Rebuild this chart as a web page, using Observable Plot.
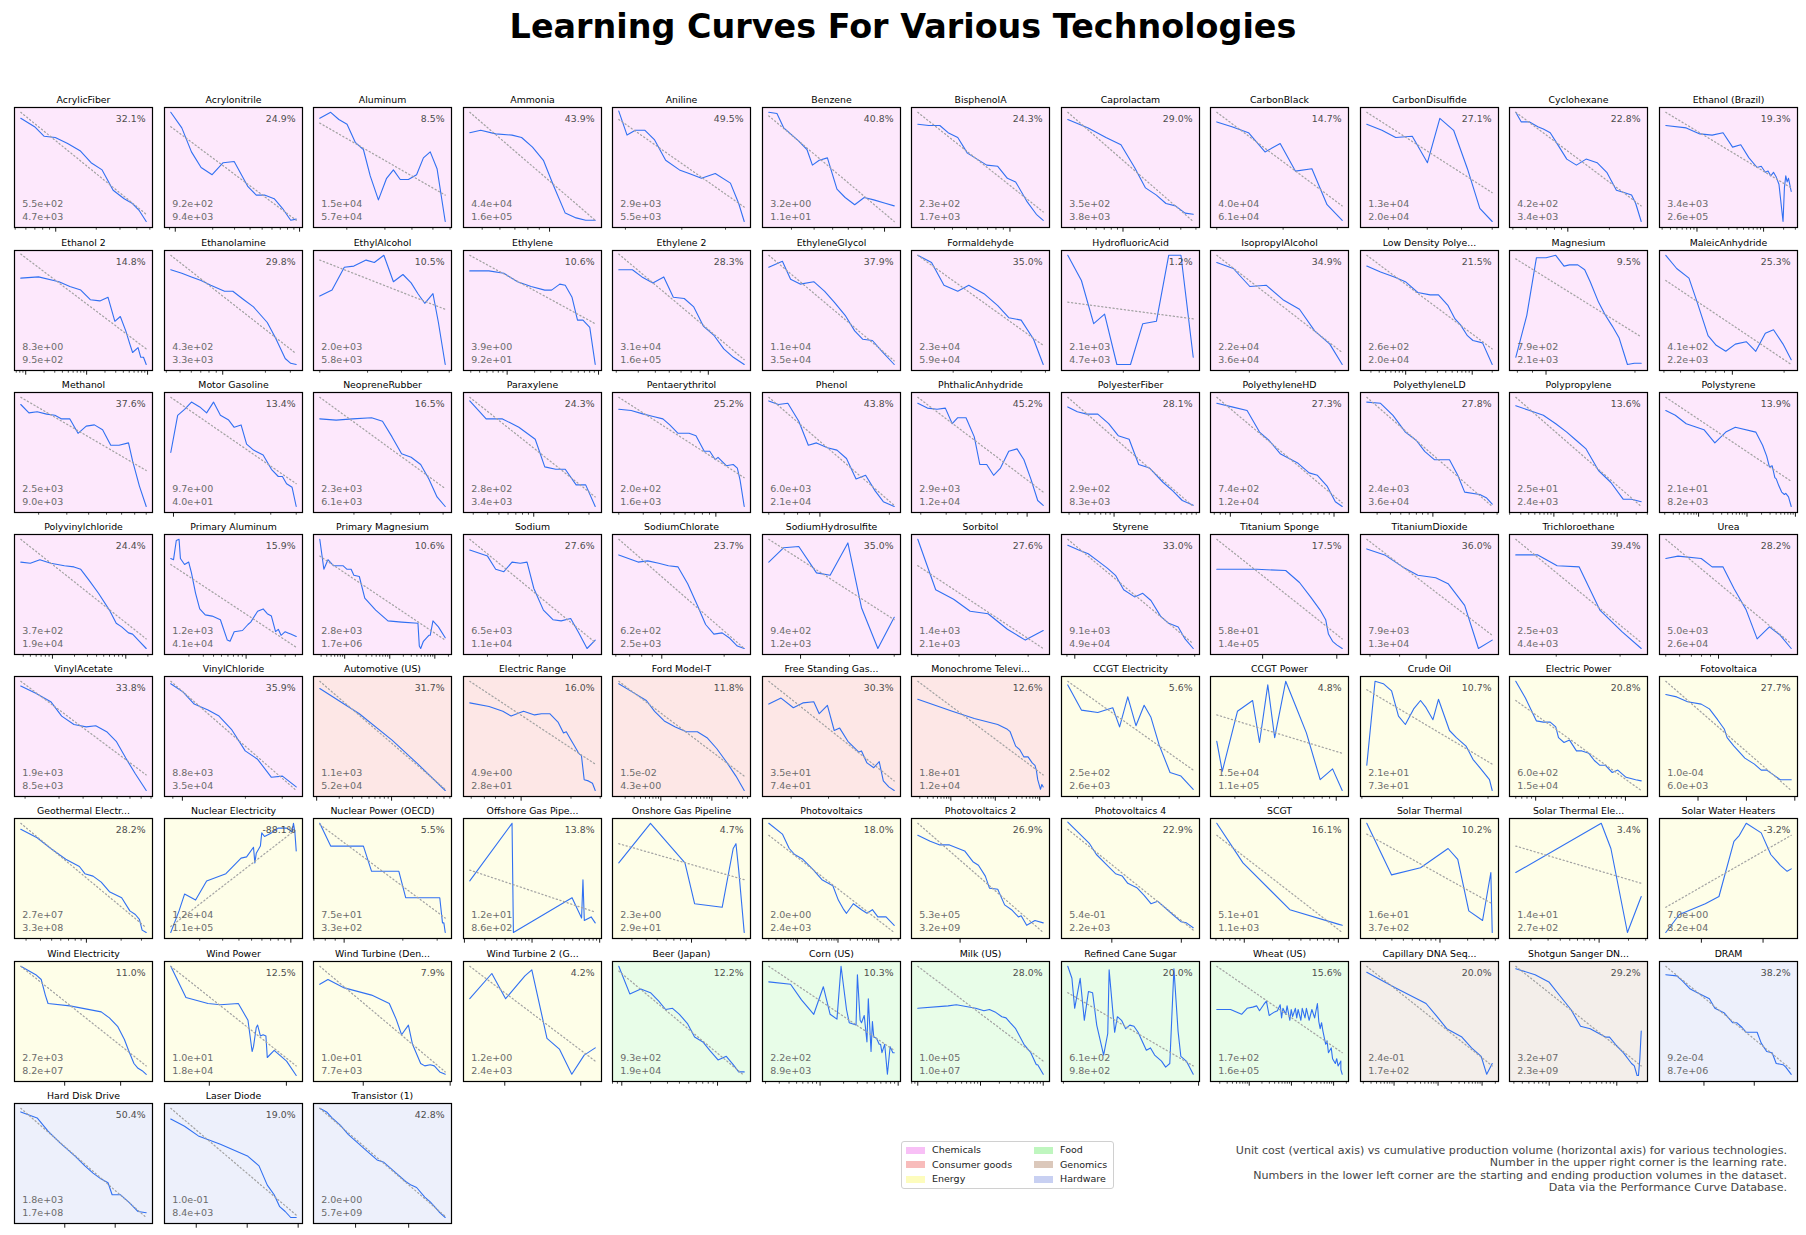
<!DOCTYPE html>
<html>
<head>
<meta charset="utf-8">
<script src="https://cdn.jsdelivr.net/npm/d3@7"></script>
<script src="https://cdn.jsdelivr.net/npm/@observablehq/plot@0.6"></script>
<style>
  body { margin: 0; background: #fff; font-family: "DejaVu Sans", sans-serif; }
  #fig { position: relative; width: 1806px; height: 1235px; overflow: hidden; background: #fff; }
  #title { position: absolute; left: 0; top: 10px; width: 1806px; text-align: center; font-weight: bold; font-size: 33.4px; line-height: 33px; color: #000; }
  #legend { position: absolute; left: 901px; top: 1141px; width: 211px; height: 46px; border: 1px solid #d0d0d0; border-radius: 3px; background: rgba(255,255,255,0.85); font-size: 9.5px; color: #222; }
  .li { position: absolute; height: 12px; line-height: 12px; white-space: nowrap; }
  .sw { position: absolute; top: 2.5px; width: 19px; height: 7px; }
  .lt { position: absolute; left: 26px; top: 0; }
  #caption { position: absolute; right: 19px; top: 1145px; text-align: right; font-size: 11.1px; line-height: 12.4px; color: #444; white-space: nowrap; }
</style>
</head>
<body>
<div id="fig">
  <div id="title">Learning Curves For Various Technologies</div>
  <div id="legend"></div>
  <div id="caption"></div>
</div>
<script>
// ---------- data ----------
const names = [
  "AcrylicFiber","Acrylonitrile","Aluminum","Ammonia","Aniline","Benzene","BisphenolA","Caprolactam","CarbonBlack","CarbonDisulfide","Cyclohexane","Ethanol (Brazil)",
  "Ethanol 2","Ethanolamine","EthylAlcohol","Ethylene","Ethylene 2","EthyleneGlycol","Formaldehyde","HydrofluoricAcid","IsopropylAlcohol","Low Density Polye...","Magnesium","MaleicAnhydride",
  "Methanol","Motor Gasoline","NeopreneRubber","Paraxylene","Pentaerythritol","Phenol","PhthalicAnhydride","PolyesterFiber","PolyethyleneHD","PolyethyleneLD","Polypropylene","Polystyrene",
  "Polyvinylchloride","Primary Aluminum","Primary Magnesium","Sodium","SodiumChlorate","SodiumHydrosulfite","Sorbitol","Styrene","Titanium Sponge","TitaniumDioxide","Trichloroethane","Urea",
  "VinylAcetate","VinylChloride","Automotive (US)","Electric Range","Ford Model-T","Free Standing Gas...","Monochrome Televi...","CCGT Electricity","CCGT Power","Crude Oil","Electric Power","Fotovoltaica",
  "Geothermal Electr...","Nuclear Electricity","Nuclear Power (OECD)","Offshore Gas Pipe...","Onshore Gas Pipeline","Photovoltaics","Photovoltaics 2","Photovoltaics 4","SCGT","Solar Thermal","Solar Thermal Ele...","Solar Water Heaters",
  "Wind Electricity","Wind Power","Wind Turbine (Den...","Wind Turbine 2 (G...","Beer (Japan)","Corn (US)","Milk (US)","Refined Cane Sugar","Wheat (US)","Capillary DNA Seq...","Shotgun Sanger DN...","DRAM",
  "Hard Disk Drive","Laser Diode","Transistor (1)"
];

// C = Chemicals, G = Consumer goods, E = Energy, F = Food, N = Genomics, H = Hardware
const groups = [
  "C","C","C","C","C","C","C","C","C","C","C","C",
  "C","C","C","C","C","C","C","C","C","C","C","C",
  "C","C","C","C","C","C","C","C","C","C","C","C",
  "C","C","C","C","C","C","C","C","C","C","C","C",
  "C","C","G","G","G","G","G","E","E","E","E","E",
  "E","E","E","E","E","E","E","E","E","E","E","E",
  "E","E","E","E","F","F","F","F","F","N","N","H",
  "H","H","H"
];

// learning rate (%)
const rates = [
  32.1,24.9,8.5,43.9,49.5,40.8,24.3,29.0,14.7,27.1,22.8,19.3,
  14.8,29.8,10.5,10.6,28.3,37.9,35.0,1.2,34.9,21.5,9.5,25.3,
  37.6,13.4,16.5,24.3,25.2,43.8,45.2,28.1,27.3,27.8,13.6,13.9,
  24.4,15.9,10.6,27.6,23.7,35.0,27.6,33.0,17.5,36.0,39.4,28.2,
  33.8,35.9,31.7,16.0,11.8,30.3,12.6,5.6,4.8,10.7,20.8,27.7,
  28.2,-88.1,5.5,13.8,4.7,18.0,26.9,22.9,16.1,10.2,3.4,-3.2,
  11.0,12.5,7.9,4.2,12.2,10.3,28.0,20.0,15.6,20.0,29.2,38.2,
  50.4,19.0,42.8
];

// starting and ending cumulative production volume
const startVol = [
  5.5e2,9.2e2,1.5e4,4.4e4,2.9e3,3.2e0,2.3e2,3.5e2,4.0e4,1.3e4,4.2e2,3.4e3,
  8.3e0,4.3e2,2.0e3,3.9e0,3.1e4,1.1e4,2.3e4,2.1e3,2.2e4,2.6e2,7.9e2,4.1e2,
  2.5e3,9.7e0,2.3e3,2.8e2,2.0e2,6.0e3,2.9e3,2.9e2,7.4e2,2.4e3,2.5e1,2.1e1,
  3.7e2,1.2e3,2.8e3,6.5e3,6.2e2,9.4e2,1.4e3,9.1e3,5.8e1,7.9e3,2.5e3,5.0e3,
  1.9e3,8.8e3,1.1e3,4.9e0,1.5e-2,3.5e1,1.8e1,2.5e2,1.5e4,2.1e1,6.0e2,1.0e-4,
  2.7e7,1.2e4,7.5e1,1.2e1,2.3e0,2.0e0,5.3e5,5.4e-1,5.1e1,1.6e1,1.4e1,7.0e0,
  2.7e3,1.0e1,1.0e1,1.2e0,9.3e2,2.2e2,1.0e5,6.1e2,1.7e2,2.4e-1,3.2e7,9.2e-4,
  1.8e3,1.0e-1,2.0e0
];
const endVol = [
  4.7e3,9.4e3,5.7e4,1.6e5,5.5e3,1.1e1,1.7e3,3.8e3,6.1e4,2.0e4,3.4e3,2.6e5,
  9.5e2,3.3e3,5.8e3,9.2e1,1.6e5,3.5e4,5.9e4,4.7e3,3.6e4,2.0e4,2.1e3,2.2e3,
  9.0e3,4.0e1,6.1e3,3.4e3,1.6e3,2.1e4,1.2e4,8.3e3,1.2e4,3.6e4,2.4e3,8.2e3,
  1.9e4,4.1e4,1.7e6,1.1e4,2.5e3,1.2e3,2.1e3,4.9e4,1.4e5,1.3e4,4.4e3,2.6e4,
  8.5e3,3.5e4,5.2e4,2.8e1,4.3e0,7.4e1,1.2e4,2.6e3,1.1e5,7.3e1,1.5e4,6.0e3,
  3.3e8,1.1e5,3.3e2,8.6e2,2.9e1,2.4e3,3.2e9,2.2e3,1.1e3,3.7e2,2.7e2,8.2e4,
  8.2e7,1.8e4,7.7e3,2.4e3,1.9e4,8.9e3,1.0e7,9.8e2,1.6e5,1.7e2,2.3e9,8.7e6,
  1.7e8,8.4e3,5.7e9
];

// unit-cost curves: pairs of (position along log production axis, relative log unit cost), both 0-100
const curves = [
  [4,91,14,84,21,76,29,75,38,70,47,64,55,54,63,48,71,31,79,24,85,20,90,14,95,5],
  [4,96,12,83,19,63,26,50,34,44,42,54,50,55,60,34,66,27,72,27,79,24,85,16,91,6,95,7],
  [4,91,12,96,18,90,24,86,30,71,36,65,41,43,47,23,53,41,58,48,63,40,69,40,75,44,80,58,85,63,90,49,96,5],
  [4,79,12,81,23,78,35,77,42,75,50,67,58,56,65,36,74,12,82,8,89,6,96,6],
  [4,97,10,77,16,81,23,81,30,73,38,56,48,48,55,45,64,41,74,45,85,37,91,20,95,5],
  [4,96,10,95,15,83,20,78,26,72,32,65,36,52,41,56,47,58,54,32,60,25,67,19,74,25,81,23,90,20,96,18],
  [4,86,12,85,20,85,26,79,33,75,40,62,47,57,54,52,62,51,69,41,75,38,83,22,90,11,95,6],
  [4,90,19,83,32,75,43,69,53,50,61,33,69,27,76,20,83,18,90,12,96,11],
  [4,88,15,84,27,79,39,63,50,70,61,47,73,49,84,19,95,6],
  [4,86,15,81,25,75,37,76,48,54,57,91,67,81,77,49,86,16,95,5],
  [4,96,8,88,14,88,20,84,24,82,29,79,35,68,41,57,48,52,55,57,63,54,70,46,77,31,83,29,88,27,91,20,95,5],
  [4,85,19,83,29,78,38,77,46,79,53,67,59,69,65,58,71,50,74,51,77,46,79,47,81,43,83,46,85,42,87,36,90,5,91,33,92,43,93,38,94,41,96,30],

  [4,77,17,78,32,74,40,70,48,67,55,59,62,58,68,61,73,41,77,45,81,33,84,22,86,15,90,19,92,11,94,11,96,5],
  [4,84,12,81,19,78,26,75,33,71,43,66,49,66,57,59,64,53,74,40,80,27,87,10,91,6,95,5],
  [4,62,13,67,22,86,29,87,38,92,44,90,51,96,58,74,65,80,71,73,76,64,81,56,87,64,91,40,96,5],
  [4,83,18,83,29,81,39,74,49,70,59,67,64,67,70,72,74,71,79,61,83,42,87,42,92,36,96,5],
  [4,84,14,84,21,78,29,73,37,78,44,61,52,60,59,53,66,37,74,29,81,18,88,11,96,5],
  [4,86,14,91,20,76,27,72,37,74,45,66,52,57,60,46,67,33,73,26,80,25,87,16,96,5],
  [4,96,14,90,23,71,33,66,41,71,52,64,62,54,70,44,79,42,88,26,95,5],
  [4,96,14,75,23,39,31,47,40,5,50,5,59,39,69,41,78,96,87,96,96,11],
  [4,90,16,85,28,70,40,71,52,59,64,51,75,33,86,22,95,5],
  [4,87,14,82,24,78,32,74,41,65,50,63,56,63,63,54,68,43,72,38,77,29,81,25,88,23,95,5],
  [4,11,12,46,19,94,26,94,33,96,39,87,43,88,49,88,54,84,58,74,64,57,69,46,74,37,79,27,85,5,90,6,95,6],
  [4,96,12,85,21,77,27,57,35,29,41,21,48,16,55,22,63,24,70,16,77,31,83,34,90,22,96,9],

  [4,90,10,83,16,84,23,82,29,81,34,78,40,78,46,66,52,72,58,73,64,69,70,56,76,56,83,58,86,43,91,22,96,5],
  [4,50,9,81,14,86,19,92,25,88,30,83,35,92,40,81,46,77,50,71,55,73,59,57,64,52,71,48,77,36,82,30,85,30,88,24,92,21,95,5],
  [4,78,16,77,28,78,42,79,50,76,57,63,64,49,71,46,78,40,84,28,90,13,96,5],
  [4,93,16,78,28,78,40,71,52,61,59,38,67,36,74,36,82,23,89,23,96,5],
  [4,86,13,85,22,82,29,80,36,78,41,73,47,66,55,66,60,64,66,51,70,51,74,44,76,46,82,39,87,40,90,37,92,27,95,5],
  [4,93,11,90,18,91,26,76,33,56,39,58,47,54,54,52,61,45,68,28,75,31,82,18,88,9,96,5],
  [4,91,11,87,18,86,24,87,29,74,33,79,39,79,45,63,49,40,54,40,59,31,64,37,70,51,76,53,81,44,86,28,91,10,95,6],
  [4,88,11,84,18,82,26,82,34,74,41,64,49,61,56,40,64,37,74,25,81,18,88,10,96,6],
  [4,91,15,88,26,85,35,67,42,60,50,49,63,41,71,33,77,31,84,22,90,9,95,5],
  [4,92,14,91,23,81,32,67,40,60,46,51,53,44,64,44,70,31,75,17,86,15,91,12,95,7],
  [4,89,14,85,24,81,33,74,41,67,48,60,55,53,64,35,73,25,82,11,88,11,95,9],
  [4,85,11,81,19,74,32,69,40,58,48,67,55,71,70,67,75,56,78,47,80,38,82,39,84,29,85,28,87,22,89,17,91,15,92,16,94,13,96,5],

  [4,77,11,76,18,79,26,76,36,74,43,73,48,71,54,62,61,51,69,37,74,26,78,23,83,18,86,17,91,11,96,5],
  [4,80,6,79,8,95,10,96,11,80,14,75,17,77,19,68,22,51,25,38,29,33,34,32,40,29,45,12,47,11,50,19,56,20,60,25,62,27,67,36,71,38,74,34,77,32,80,19,82,21,84,16,87,19,89,18,91,17,95,15],
  [4,96,7,71,10,79,14,74,21,74,24,71,27,71,29,66,33,65,37,47,45,37,54,28,64,27,76,26,77,7,78,5,80,11,84,16,85,16,87,28,91,23,96,14],
  [4,87,17,82,23,71,29,69,35,77,41,76,46,77,51,55,58,37,65,29,71,28,78,30,84,18,90,5,96,12],
  [4,83,18,77,25,78,33,76,40,74,47,73,54,59,61,41,67,25,73,17,79,18,84,14,90,7,95,5],
  [4,77,15,89,26,90,39,68,49,66,62,93,72,39,84,5,96,31],
  [4,96,17,54,30,46,42,36,55,34,69,21,82,12,95,20],
  [4,91,12,87,19,84,26,78,33,72,39,66,45,54,53,48,59,51,65,45,72,32,78,26,85,23,90,13,96,5],
  [4,71,33,71,54,70,64,60,72,48,79,37,83,29,85,17,88,11,91,8,95,5],
  [4,88,17,83,30,73,41,66,54,64,63,59,75,41,85,5,95,12],
  [4,83,20,83,34,74,50,73,65,37,81,19,95,5],
  [4,80,13,82,30,80,38,73,46,73,54,55,63,37,71,13,80,23,88,16,96,5],

  [4,92,15,86,26,79,34,67,43,60,52,58,59,59,67,54,74,46,81,32,88,19,96,5],
  [4,94,13,87,21,77,31,72,39,67,48,56,58,38,67,31,77,16,85,17,95,8],
  [4,90,33,69,57,47,76,27,96,5],
  [4,78,18,75,28,71,34,67,43,71,51,68,56,69,62,69,68,62,72,53,74,54,77,48,80,42,83,36,85,34,87,14,90,13,93,11,95,5],
  [4,94,14,87,24,80,30,71,37,63,45,58,53,54,61,54,68,49,75,40,82,29,89,17,95,5],
  [4,77,13,82,22,74,29,78,37,79,41,69,47,76,52,55,56,57,62,46,70,37,72,38,76,28,81,24,85,29,88,13,92,8,96,5],
  [4,81,29,71,45,65,62,60,69,56,71,54,75,42,78,39,81,33,84,33,87,28,89,26,90,22,91,14,93,6,94,10,95,8],
  [4,93,14,72,26,70,37,74,42,58,48,83,54,59,60,76,65,66,71,43,79,20,87,17,96,6],
  [4,46,8,21,19,71,30,80,35,45,41,93,46,49,54,96,61,76,69,53,79,14,88,23,95,5],
  [4,26,10,96,16,94,22,88,27,67,32,60,38,73,43,80,47,74,52,64,56,81,64,55,69,49,76,42,81,31,86,24,93,14,95,5],
  [4,96,11,82,19,63,24,62,29,62,33,58,35,49,39,45,43,47,48,38,52,38,57,36,61,30,65,26,69,26,74,20,78,22,84,16,91,14,95,13],
  [4,85,12,83,20,79,30,77,36,73,42,64,47,56,49,49,54,42,62,32,69,27,74,22,78,22,83,18,88,14,91,14,96,14],

  [4,91,16,84,26,75,37,66,47,60,51,54,57,52,63,47,69,39,78,34,84,23,88,20,91,16,93,7,96,5],
  [4,5,10,23,14,37,22,32,30,48,44,54,55,67,59,68,64,76,65,63,66,71,69,77,70,88,72,85,77,88,82,92,88,92,92,89,93,96,94,89,95,73],
  [4,96,12,77,28,77,36,77,42,56,62,56,67,34,81,34,92,34,94,13,95,13,96,5],
  [4,48,35,96,36,5,79,34,86,17,87,49,88,15,93,18,96,13],
  [4,63,27,96,52,63,59,29,79,26,87,75,89,79,91,57,95,5],
  [4,96,14,87,19,75,23,70,29,66,36,58,43,49,51,44,55,32,59,24,61,21,66,29,72,24,76,21,80,24,84,18,90,18,96,11],
  [4,86,13,81,20,78,27,78,38,73,44,64,48,61,53,52,56,42,62,41,67,28,72,24,77,18,79,19,83,11,89,15,95,13],
  [4,97,12,88,20,79,25,70,32,62,39,54,44,52,48,46,55,42,60,36,65,29,70,31,76,25,81,20,87,14,91,13,96,9],
  [4,96,23,63,57,24,92,12,95,11],
  [4,96,22,53,43,59,63,75,70,66,78,23,88,15,94,55,95,5],
  [4,55,66,96,73,75,85,5,95,35],
  [4,5,14,20,33,29,43,35,54,81,58,86,63,96,74,88,81,70,88,61,93,56,96,58],

  [4,96,15,89,19,85,22,72,24,65,40,63,63,58,69,53,75,46,80,35,83,26,87,15,90,11,93,9,96,6],
  [4,96,15,70,31,65,40,64,53,65,60,51,63,25,64,29,66,45,67,47,69,38,71,39,73,38,74,20,79,26,88,17,95,5],
  [4,81,10,85,22,78,42,72,55,65,60,52,64,39,69,47,72,31,78,15,81,13,85,14,88,13,92,8,96,6],
  [4,69,20,90,30,69,44,88,49,93,60,36,69,27,78,6,87,22,95,28],
  [4,96,12,73,20,77,27,74,33,67,38,60,43,61,48,56,54,48,59,37,65,33,70,26,76,18,82,21,87,14,91,8,95,8],
  [4,83,20,81,28,68,37,56,44,79,49,56,54,52,57,96,61,60,63,49,68,47,69,89,71,51,72,49,74,55,76,33,77,69,79,25,80,50,81,37,83,36,85,31,86,31,87,24,89,31,91,6,93,29,95,24,96,24],
  [4,61,26,63,32,64,46,61,52,59,56,60,60,58,65,54,68,53,71,49,75,44,81,31,86,24,90,14,91,14,95,6],
  [4,96,7,86,9,61,13,86,16,51,19,75,22,74,25,47,30,22,33,40,34,93,38,41,40,54,43,51,46,44,49,47,52,46,55,41,59,31,61,26,64,28,67,22,72,17,75,12,78,15,81,94,84,42,86,21,90,17,95,6],
  [4,60,14,60,22,56,26,61,30,62,33,63,35,59,38,64,40,67,42,55,46,58,48,59,50,64,51,53,52,61,54,56,55,63,57,51,58,60,59,54,61,61,62,53,63,60,65,51,66,61,68,53,69,61,71,51,73,60,75,53,77,65,78,50,79,44,80,49,81,42,83,31,84,34,85,24,87,28,88,19,90,15,91,19,92,13,94,17,94,10,95,6],
  [4,91,25,78,47,65,55,54,62,44,73,37,80,28,87,21,91,6,95,15],
  [4,94,18,89,28,83,37,70,44,60,51,46,58,44,69,37,72,37,77,30,82,24,88,15,90,13,92,5,93,5,94,19,95,42],
  [4,89,12,88,16,84,22,77,29,73,36,69,40,61,47,57,53,49,56,49,60,45,63,41,71,41,74,32,78,25,82,24,85,15,90,14,92,12,96,6],

  [4,93,16,88,24,77,33,67,44,56,51,48,57,42,63,37,68,34,71,24,77,24,84,17,90,10,96,9],
  [4,87,14,81,24,73,40,66,60,56,68,48,74,32,79,24,83,14,87,10,91,5,95,5],
  [4,96,9,93,13,88,19,82,25,74,31,68,38,61,46,53,51,51,55,47,60,42,67,35,71,32,75,30,81,22,85,18,89,13,92,9,96,5]
];

// dotted trend line: relative log cost at first and last production volume
const fits = [
  [96,11],[84,6],[87,27],[96,6],[90,17],[93,5],[96,13],[96,5],[96,18],[96,29],[96,18],[96,33],
  [97,18],[96,14],[92,51],[96,39],[97,9],[96,8],[96,21],[57,43],[96,15],[96,18],[93,28],[75,5],
  [96,35],[96,24],[96,20],[96,13],[96,29],[96,6],[96,17],[96,5],[96,8],[96,5],[96,5],[96,26],
  [96,13],[75,6],[82,12],[96,10],[96,5],[96,29],[74,5],[96,9],[96,13],[96,16],[96,10],[96,9],
  [96,18],[96,5],[96,6],[96,27],[96,17],[96,13],[96,18],[96,22],[68,36],[89,27],[80,5],[96,5],
  [96,9],[10,91],[95,17],[57,22],[79,49],[86,5],[96,5],[91,7],[86,5],[87,29],[77,46],[26,86],
  [96,13],[96,13],[96,8],[96,17],[92,5],[96,26],[96,17],[74,13],[96,24],[96,13],[96,13],[96,10],
  [96,5],[96,7],[96,6]
];

const groupLabels = {C: "Chemicals", G: "Consumer goods", E: "Energy", F: "Food", N: "Genomics", H: "Hardware"};
const panelFill = {C: "#fde8fc", G: "#fde7e6", E: "#fefee8", F: "#e8fde8", N: "#f3eeea", H: "#edf0fb"};
const legendFill = {C: "#f8c0f6", G: "#f8bcbb", E: "#fdfcbd", F: "#bff6bf", N: "#dbc8bb", H: "#c8d0f2"};
const captionLines = [
  "Unit cost (vertical axis) vs cumulative production volume (horizontal axis) for various technologies.",
  "Number in the upper right corner is the learning rate.",
  "Numbers in the lower left corner are the starting and ending production volumes in the dataset.",
  "Data via the Performance Curve Database."
];

// ---------- helpers ----------
const fmtVol = v => {
  const [m, e] = v.toExponential(1).split("e");
  return m + "e" + e[0] + e.slice(1).padStart(2, "0");
};
const fmtRate = r => r.toFixed(1) + "%";

// log-axis tick placement in the style of matplotlib's LogLocator
function logTicks(vmin, vmax) {
  const numticks = 3;
  const lo = Math.log10(vmin), hi = Math.log10(vmax);
  const numdec = Math.floor(hi) - Math.ceil(lo);
  let stride = Math.floor(numdec / numticks) + 1;
  if (stride >= numdec) stride = Math.max(1, numdec - 1);
  const decades = d3.range(Math.floor(lo) - stride, Math.ceil(hi) + 2 * stride, stride);
  const inView = t => t >= vmin * 0.999999 && t <= vmax * 1.000001;
  const major = decades.map(k => Math.pow(10, k)).filter(inView);
  let minor = [];
  if (numdec <= 10 && stride === 1) {
    for (const k of decades) for (let s = 2; s < 10; s++) {
      const t = s * Math.pow(10, k);
      if (inView(t)) minor.push(t);
    }
    if (minor.length <= 1) {
      minor = d3.ticks(vmin, vmax, 3).filter(t => !major.some(m => Math.abs(m - t) / m < 1e-9));
    }
  }
  return {major, minor};
}

// ---------- panels ----------
const fig = document.getElementById("fig");
const FW = 138, FH = 120, ML = 8, MR = 8, MT = 18, MB = 8;
const X0 = 14.3, Y0 = 107.3, DX = 149.5, DY = 142.2;

names.forEach((name, i) => {
  const col = i % 12, row = Math.floor(i / 12);
  const s = startVol[i], e = endVol[i];
  const span = Math.log10(e / s);
  const vmin = s * Math.pow(10, -0.05 * span), vmax = e * Math.pow(10, 0.05 * span);
  const c = curves[i];
  const p0 = c[0], p1 = c[c.length - 2];
  const toVol = p => s * Math.pow(10, span * (p - p0) / (p1 - p0));
  const pts = [];
  for (let k = 0; k < c.length; k += 2) pts.push({vol: toVol(c[k]), cost: c[k + 1]});
  const trend = [{vol: s, cost: fits[i][0]}, {vol: e, cost: fits[i][1]}];
  const {major, minor} = logTicks(vmin, vmax);
  const g = groups[i];

  const svg = Plot.plot({
    width: FW + ML + MR,
    height: FH + MT + MB,
    marginLeft: ML, marginRight: MR, marginTop: MT, marginBottom: MB,
    x: {type: "log", domain: [vmin, vmax], axis: null},
    y: {domain: [0, 100], axis: null},
    style: {fontFamily: "DejaVu Sans", fontSize: "9.33px", background: "transparent", overflow: "visible"},
    marks: [
      Plot.frame({fill: panelFill[g]}),
      Plot.ruleX(minor, {stroke: "#000", strokeWidth: 0.7, insetTop: FH, insetBottom: -2.7}),
      Plot.ruleX(major, {stroke: "#000", strokeWidth: 0.9, insetTop: FH, insetBottom: -4.7}),
      Plot.line(pts, {x: "vol", y: "cost", stroke: "#3070f2", strokeWidth: 1.1}),
      Plot.line(trend, {x: "vol", y: "cost", stroke: "#a3a3a3", strokeWidth: 1.25, strokeDasharray: "1.2,2.6"}),
      Plot.frame({stroke: "#000", strokeWidth: 1.2}),
      Plot.text([name], {text: d => d, frameAnchor: "top", lineAnchor: "bottom", dy: -5, fill: "#000", fontSize: 9.33}),
      Plot.text([fmtRate(rates[i])], {text: d => d, frameAnchor: "top-right", textAnchor: "end", lineAnchor: "bottom", dx: -7, dy: 14, fill: "#4d4d4d", fontSize: 9.33}),
      Plot.text([fmtVol(s) + "\n" + fmtVol(e)], {text: d => d, frameAnchor: "bottom-left", textAnchor: "start", lineAnchor: "bottom", dx: 7.7, dy: -8, lineHeight: 1.29, fill: "#6b6b6b", fontSize: 9.5})
    ]
  });
  svg.style.position = "absolute";
  svg.style.left = (X0 + DX * col - ML) + "px";
  svg.style.top = (Y0 + DY * row - MT) + "px";
  svg.style.maxWidth = "none";
  fig.appendChild(svg);
});

// ---------- legend ----------
const legend = document.getElementById("legend");
const legendOrder = [["C", 0, 0], ["G", 0, 1], ["E", 0, 2], ["F", 1, 0], ["N", 1, 1], ["H", 1, 2]];
legendOrder.forEach(([k, cx, ry]) => {
  const item = document.createElement("div");
  item.className = "li";
  item.style.left = (cx === 0 ? 4 : 132) + "px";
  item.style.top = (2 + ry * 14.6) + "px";
  const sw = document.createElement("div");
  sw.className = "sw";
  sw.style.left = "0px";
  sw.style.background = legendFill[k];
  const lt = document.createElement("div");
  lt.className = "lt";
  lt.textContent = groupLabels[k];
  item.appendChild(sw);
  item.appendChild(lt);
  legend.appendChild(item);
});

// ---------- caption ----------
const cap = document.getElementById("caption");
captionLines.forEach(t => {
  const d = document.createElement("div");
  d.textContent = t;
  cap.appendChild(d);
});
</script>
</body>
</html>
